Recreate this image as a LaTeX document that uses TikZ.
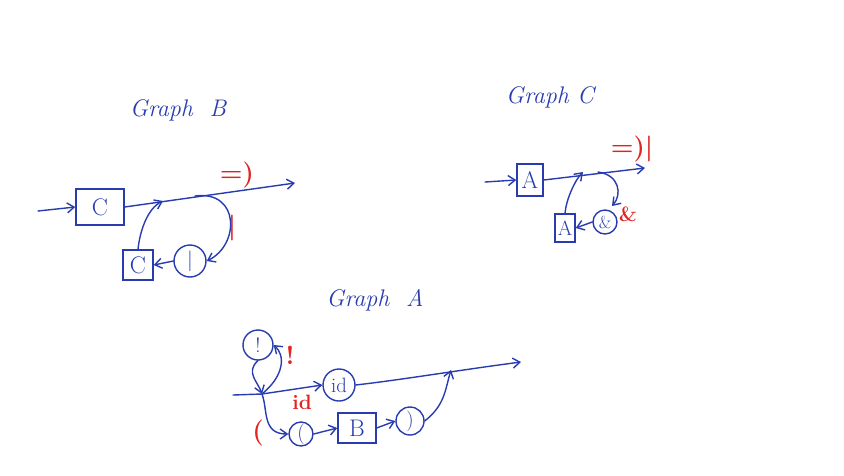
\documentclass[tikz,border=0pt]{standalone}
\usetikzlibrary{arrows.meta}
\definecolor{pen}{RGB}{40,60,175}
\definecolor{redpen}{RGB}{225,35,35}
\begin{document}
\begin{tikzpicture}[x=1pt,y=-1pt,
  line/.style={draw=pen,line width=1.4pt,line cap=round},
  arr/.style={line,-{Straight Barb[length=7pt,width=10pt]}},
  boxn/.style={draw=pen,line width=1.4pt,minimum width=#1,minimum height=30pt,inner sep=0pt,text=pen,font=\fontsize{24}{28}\selectfont},
  circn/.style={draw=pen,line width=1.4pt,circle,minimum size=#1,inner sep=0pt,text=pen,font=\huge},
  lab/.style={text=redpen,font=\fontsize{26}{30}\selectfont\bfseries},
  ttl/.style={text=pen,font=\fontsize{24}{28}\selectfont\itshape}]
\useasboundingbox (0,0) rectangle (844,475);
% Graph B
\node[ttl] (tB) at (178,110) {Graph\ \ B};
\coordinate (bin) at (38,211);
\node[boxn=48pt,minimum height=36pt] (bC) at (100,207) {C};
\coordinate (bout) at (295,183);
\draw[arr] (bin) -- (bC.west);
\draw[arr] (bC.east) -- (bout);
\node[lab] (bl1) at (237,175) {=)};
\node[circn=32pt] (bbar) at (190,261) {|};
\node[boxn=30pt] (bc) at (138,265) {C};
\coordinate (bs) at (195,196);
\coordinate (bj) at (163,201);
\draw[arr] (bs) .. controls (240,190) and (240,245) .. (bbar.east);
\node[lab] (bl2) at (232,228) {|};
\draw[arr] (bbar.west) -- (bc.east);
\draw[arr] (bc.north) .. controls (140,230) and (148,208) .. (bj);
% Graph C
\node[ttl] (tC) at (550,97) {Graph C};
\coordinate (cin) at (485,182);
\node[boxn=26pt,minimum height=32pt] (cA) at (530,180) {A};
\coordinate (cout) at (645,168);
\draw[arr] (cin) -- (cA.west);
\draw[arr] (cA.east) -- (cout);
\node[lab] (cl1) at (632,149) {=)|};
\node[circn=24pt,font=\LARGE] (camp) at (605,222) {\&};
\node[boxn=20pt,minimum height=28pt,font=\huge] (ca) at (565,228) {A};
\coordinate (cs) at (598,172);
\coordinate (cj) at (583,172);
\draw[arr] (cs) .. controls (620,175) and (622,195) .. (612,206);
\node[lab,font=\huge\bfseries] (cl2) at (628,214) {\&};
\draw[arr] (camp.west) -- (ca.east);
\draw[arr] (ca.north) .. controls (566,200) and (575,180) .. (cj);
% Graph A
\node[ttl] (tA) at (375,300) {Graph\ \ A};
\coordinate (ain) at (233,395);
\coordinate (aj) at (262,394);
\node[circn=30pt] (aexc) at (258,345) {!};
\node[circn=32pt] (aid) at (339,385) {id};
\coordinate (aout) at (521,362);
\coordinate (am) at (451,370);
\node[circn=24pt] (ap) at (301,434) {(};
\node[boxn=38pt] (aB) at (357,428) {B};
\node[circn=28pt] (acl) at (410,421) {)};
\draw[line] (ain) -- (aj);
\draw[arr] (aj) -- (aid.west);
\draw[arr] (aid.east) .. controls (400,380) and (460,370) .. (aout);
\draw[arr] (aexc.south) .. controls (245,372) and (258,382) .. (aj);
\draw[arr] (aj) .. controls (285,375) and (285,355) .. (aexc.east);
\node[lab] (al1) at (290,355) {!};
\node[lab,font=\huge\bfseries] (al2) at (302,402) {id};
\draw[arr] (aj) .. controls (268,410) and (262,434) .. (ap.west);
\node[lab] (al3) at (258,433) {(};
\draw[arr] (ap.east) -- (aB.west);
\draw[arr] (aB.east) -- (acl.west);
\draw[arr] (acl.east) .. controls (445,405) and (445,390) .. (am);
\end{tikzpicture}
\end{document}
